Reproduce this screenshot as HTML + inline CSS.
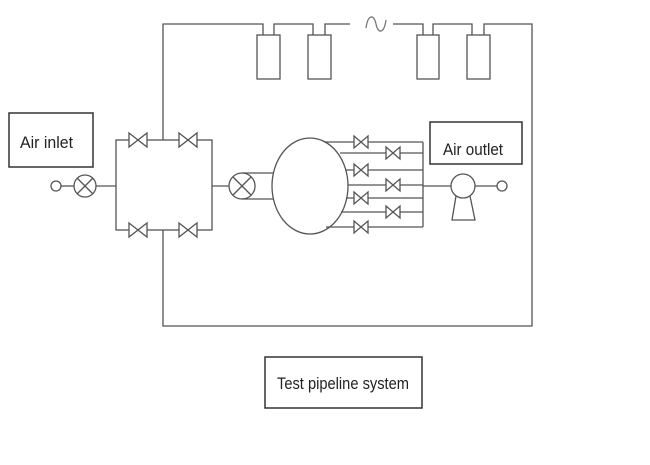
<!DOCTYPE html>
<html><head><style>body{margin:0;background:#fff}svg{display:block}text{font-family:"Liberation Sans",sans-serif;fill:#222}</style></head><body>
<svg width="650" height="465" viewBox="0 0 650 465" fill="none" stroke="#555" stroke-width="1.3">
<polyline points="263,35 263,24 163,24 163,140"/>
<polyline points="274,35 274,24 313,24 313,35"/>
<polyline points="325,35 325,24 350,24"/>
<path d="M366,28 C368,14 374,14 376,24 C378,34 384,34 386,20" stroke="#777"/>
<polyline points="393,24 423,24 423,35"/>
<polyline points="433,35 433,24 472,24 472,35"/>
<polyline points="484,35 484,24 532,24 532,326 163,326 163,230"/>
<rect x="257" y="35" width="23" height="44"/><rect x="308" y="35" width="23" height="44"/>
<rect x="417" y="35" width="22" height="44"/><rect x="467" y="35" width="23" height="44"/>
<rect x="9" y="113" width="84" height="54" stroke="#333" stroke-width="1.5"/>
<text x="20" y="148" font-size="17" stroke="none" textLength="53" lengthAdjust="spacingAndGlyphs">Air inlet</text>
<circle cx="56" cy="186" r="5"/><line x1="61" y1="186" x2="74" y2="186"/>
<circle cx="85" cy="186" r="11"/><line x1="77" y1="178" x2="93" y2="194"/><line x1="93" y1="178" x2="77" y2="194"/>
<line x1="96" y1="186" x2="116" y2="186"/>
<rect x="116" y="140" width="96" height="90"/>
<g fill="#fff">
<path d="M129,133 L147,147 L147,133 L129,147Z"/><path d="M179,133 L197,147 L197,133 L179,147Z"/>
<path d="M129,223 L147,237 L147,223 L129,237Z"/><path d="M179,223 L197,237 L197,223 L179,237Z"/>
</g>
<line x1="212" y1="186" x2="229" y2="186"/>
<circle cx="242" cy="186" r="13"/><line x1="233" y1="177" x2="251" y2="195"/><line x1="251" y1="177" x2="233" y2="195"/>
<line x1="242" y1="173" x2="285" y2="173"/><line x1="242" y1="199" x2="285" y2="199"/>
<ellipse cx="310" cy="186" rx="38" ry="48" fill="#fff"/>
<g>
<line x1="324" y1="142" x2="423" y2="142"/><line x1="340" y1="153" x2="423" y2="153"/>
<line x1="345" y1="170" x2="423" y2="170"/><line x1="348" y1="185" x2="423" y2="185"/>
<line x1="346" y1="198" x2="423" y2="198"/><line x1="341" y1="212" x2="423" y2="212"/>
<line x1="326" y1="227" x2="423" y2="227"/><line x1="423" y1="142" x2="423" y2="227"/>
</g>
<g fill="#fff">
<path d="M354,136 L368,148 L368,136 L354,148Z"/><path d="M386,147 L400,159 L400,147 L386,159Z"/>
<path d="M354,164 L368,176 L368,164 L354,176Z"/><path d="M386,179 L400,191 L400,179 L386,191Z"/>
<path d="M354,192 L368,204 L368,192 L354,204Z"/><path d="M386,206 L400,218 L400,206 L386,218Z"/>
<path d="M354,221 L368,233 L368,221 L354,233Z"/>
</g>
<line x1="423" y1="186" x2="451" y2="186"/>
<path d="M456,196 L452,220 L475,220 L470,196"/>
<circle cx="463" cy="186" r="12" fill="#fff"/>
<line x1="475" y1="186" x2="497" y2="186"/><circle cx="502" cy="186" r="5"/>
<rect x="430" y="122" width="92" height="42" stroke="#333" stroke-width="1.5"/>
<text x="443" y="155" font-size="17" stroke="none" textLength="60" lengthAdjust="spacingAndGlyphs">Air outlet</text>
<rect x="265" y="357" width="157" height="51" stroke="#333" stroke-width="1.5"/>
<text x="277" y="389" font-size="17" stroke="none" textLength="132" lengthAdjust="spacingAndGlyphs">Test pipeline system</text>
</svg></body></html>
